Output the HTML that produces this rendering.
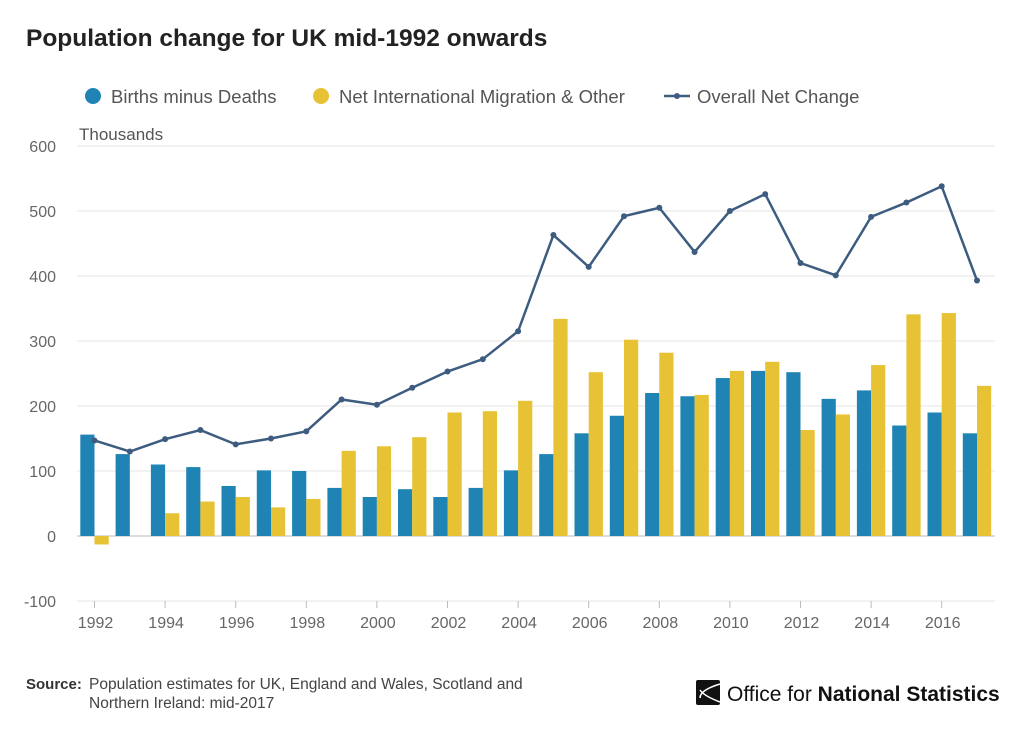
<!DOCTYPE html>
<html><head><meta charset="utf-8"><style>
body{margin:0;background:#fff;font-family:"Liberation Sans",sans-serif;}
svg text{font-family:"Liberation Sans",sans-serif;}
</style></head><body>
<svg id="chart" width="1024" height="731" viewBox="0 0 1024 731" xmlns="http://www.w3.org/2000/svg">
<text x="26" y="46" font-size="24.5" font-weight="bold" fill="#222">Population change for UK mid-1992 onwards</text>
<g>
<circle cx="93" cy="96" r="8" fill="#1f84b4"/>
<text x="111" y="103" font-size="18.5" fill="#555">Births minus Deaths</text>
<circle cx="321" cy="96" r="8" fill="#e6c234"/>
<text x="339" y="103" font-size="18.5" fill="#555">Net International Migration &amp; Other</text>
<line x1="664" y1="96" x2="690" y2="96" stroke="#3d5c7f" stroke-width="2.5"/>
<circle cx="677" cy="96" r="3" fill="#3d5c7f"/>
<text x="697" y="103" font-size="18.5" fill="#555">Overall Net Change</text>
</g>
<text x="79" y="140" font-size="17" fill="#555">Thousands</text>
<g id="grid"></g><g id="bars"></g><g id="line"></g><g id="xaxis"></g>
<text x="26" y="689" font-size="15" font-weight="bold" fill="#333">Source:</text>
<text x="89" y="689" font-size="15.5" fill="#444">Population estimates for UK, England and Wales, Scotland and</text>
<text x="89" y="708" font-size="15.5" fill="#444">Northern Ireland: mid-2017</text>
<g>
<rect x="696" y="680" width="24" height="25" rx="2" fill="#111"/>
<path d="M720 684 Q700 690 700 698 M720 702 Q704 696 700 690" stroke="#fff" stroke-width="1.5" fill="none"/>
<text x="727" y="701" font-size="21" fill="#111">Office for <tspan font-weight="bold">National Statistics</tspan></text>
</g>
</svg>
<script>
const years=[1992,1993,1994,1995,1996,1997,1998,1999,2000,2001,2002,2003,2004,2005,2006,2007,2008,2009,2010,2011,2012,2013,2014,2015,2016,2017];
const births=[156,126,110,106,77,101,100,74,60,72,60,74,101,126,158,185,220,215,243,254,252,211,224,170,190,158];
const migration=[-13,0,35,53,60,44,57,131,138,152,190,192,208,334,252,302,282,217,254,268,163,187,263,341,343,231];
const netChange=[147,130,149,163,141,150,161,210,202,228,253,272,315,463,414,492,505,437,500,526,420,401,491,513,538,393];
const yTicks=[-100,0,100,200,300,400,500,600];
const NS="http://www.w3.org/2000/svg";
function y(v){return 536-v*0.65;}
function xc(i){return 94.5+i*35.3;}
function mk(tag,attrs,parent){const e=document.createElementNS(NS,tag);for(const k in attrs)e.setAttribute(k,attrs[k]);document.getElementById(parent).appendChild(e);return e;}
yTicks.forEach(t=>{
 const l=mk('line',{x1:77,x2:995,y1:y(t),y2:y(t),stroke:t===0?'#bbb':'#e6e6e6','stroke-width':1},'grid');
 
 
 const tx=mk('text',{x:56,y:y(t)+6,'font-size':16,fill:'#666','text-anchor':'end'},'grid');
 tx.textContent=t;
 
 
});
const bw=14.2;
years.forEach((yr,i)=>{
 const b=mk('rect',{x:xc(i)-bw,y:Math.min(y(births[i]),y(0)),width:bw,height:Math.abs(y(births[i])-y(0)),fill:'#1f84b4'},'bars');
 
 
 const m=mk('rect',{x:xc(i),y:Math.min(y(migration[i]),y(0)),width:bw,height:Math.abs(y(migration[i])-y(0)),fill:'#e6c234'},'bars');
 
 
 if(yr%2===0){
  const tx=mk('text',{x:xc(i)+1,y:628,'font-size':16,fill:'#666','text-anchor':'middle'},'xaxis');
  tx.textContent=yr;
  
  
  const tk=mk('line',{x1:xc(i),x2:xc(i),y1:601,y2:608,stroke:'#bbb'},'xaxis');
  
  
 }
});
const p=mk('polyline',{points:netChange.map((v,i)=>xc(i)+','+y(v)).join(' '),fill:'none',stroke:'#3d5c7f','stroke-width':2.5},'line');


netChange.forEach((v,i)=>{
 const c=mk('circle',{cx:xc(i),cy:y(v),r:3,fill:'#3d5c7f'},'line');
 
 
});
</script>
</body></html>
